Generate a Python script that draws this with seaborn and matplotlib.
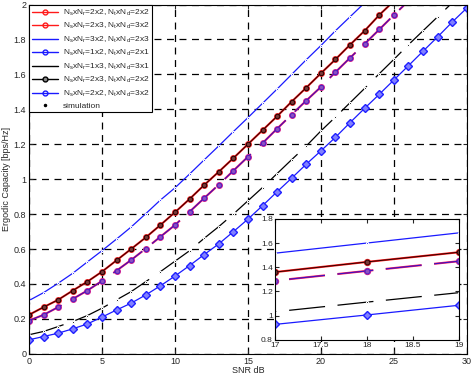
import matplotlib.pyplot as plt
import numpy as np
import seaborn as sns
from matplotlib.lines import Line2D

# %% data (ergodic capacity vs SNR)
snr = np.arange(0, 31)
cap_3x2_2x3 = [0.305, 0.35, 0.404, 0.461, 0.526, 0.59, 0.657, 0.726, 0.802, 0.88,
               0.95, 1.029, 1.11, 1.19, 1.272, 1.352, 1.434, 1.516, 1.60, 1.684,
               1.765, 1.85, 1.93, 2.01]
cap_2x2_2x2 = [0.223, 0.267, 0.309, 0.362, 0.413, 0.47, 0.535, 0.60, 0.666, 0.737,
               0.81, 0.886, 0.966, 1.042, 1.12, 1.20, 1.28, 1.36, 1.444, 1.524,
               1.606, 1.686, 1.77, 1.85, 1.94, 2.02]
cap_2x3_2x2 = cap_2x2_2x2
cap_2x3_3x2 = [0.19, 0.223, 0.267, 0.314, 0.362, 0.417, 0.476, 0.537, 0.602, 0.67,
               0.737, 0.813, 0.891, 0.968, 1.048, 1.128, 1.206, 1.289, 1.37, 1.45,
               1.528, 1.613, 1.695, 1.775, 1.857, 1.94, 2.02]
cap_2x2_3x2 = cap_2x3_3x2
cap_1x3_3x1 = [0.109, 0.128, 0.156, 0.185, 0.219, 0.261, 0.309, 0.356, 0.413, 0.47,
               0.53, 0.59, 0.661, 0.728, 0.80, 0.876, 0.952, 1.032, 1.112, 1.19,
               1.276, 1.356, 1.438, 1.52, 1.604, 1.686, 1.77, 1.85, 1.93, 2.01]
cap_1x2_2x1 = [0.08, 0.099, 0.118, 0.143, 0.171, 0.21, 0.251, 0.29, 0.337, 0.389,
               0.445, 0.505, 0.568, 0.629, 0.699, 0.771, 0.848, 0.928, 1.006, 1.086,
               1.162, 1.24, 1.324, 1.406, 1.486, 1.568, 1.65, 1.733, 1.815, 1.90, 1.98]

labels = ["N$_s$xN$_r$=2x2, N$_t$xN$_d$=2x2",
          "N$_s$xN$_r$=2x3, N$_t$xN$_d$=3x2",
          "N$_s$xN$_r$=3x2, N$_t$xN$_d$=2x3",
          "N$_s$xN$_r$=1x2, N$_t$xN$_d$=2x1",
          "N$_s$xN$_r$=1x3, N$_t$xN$_d$=3x1",
          "N$_s$xN$_r$=2x3, N$_t$xN$_d$=2x2",
          "N$_s$xN$_r$=2x2, N$_t$xN$_d$=3x2",
          "simulation"]

# %% style
sns.set_style("ticks")
plt.rcParams['font.family'] = ['Liberation Sans', 'DejaVu Sans']
plt.rcParams['mathtext.fontset'] = 'custom'
plt.rcParams['mathtext.rm'] = 'Liberation Sans'
plt.rcParams['mathtext.it'] = 'Liberation Sans'
plt.rcParams['lines.scale_dashes'] = False  # same dash length whatever the width

dash = (0, (26, 9))


def line(ax, y, **kw):
    sns.lineplot(x=snr[:len(y)], y=y, ax=ax, legend=False, errorbar=None, **kw)


def draw(ax, ms=4.2):
    line(ax, cap_3x2_2x3, color='#1a1aff', lw=0.9, marker='.', ms=3)
    line(ax, cap_2x2_2x2, color='#ff1a1a', lw=1.5, marker='o', ms=ms,
         mec='#ff3030', mfc='none', mew=0.8)
    line(ax, cap_2x3_2x2, color='#2a0000', lw=0.7, marker='o', ms=ms - 1,
         mec='#300000', mfc='#7a3a3a', mew=0.8)
    line(ax, cap_2x3_3x2, color='#ff1a5a', lw=1.5, linestyle=dash, marker='o',
         ms=ms, mec='#e0208a', mfc='none', mew=0.8)
    line(ax, cap_2x2_3x2, color='#3a10c0', lw=0.8, linestyle=dash, marker='o',
         ms=ms - 1, mec='#5020c0', mfc='#9050c0', mew=0.8)
    line(ax, cap_1x3_3x1, color='k', lw=0.9, linestyle=dash, marker='.', ms=3)
    line(ax, cap_1x2_2x1, color='#1a1aff', lw=0.9, marker='D', ms=ms - 0.6,
         mec='#2020ff', mfc='#8080ff', mew=1.0)


# %% create figure
fig = plt.figure(figsize=(4.74, 3.76), dpi=100)
ax = fig.add_axes([0.061, 0.059, 0.924, 0.929])
ax.set_axisbelow(True)
draw(ax)
ax.set_xlim(0, 30)
ax.set_ylim(0, 2)
ax.set_xticks(np.arange(0, 31, 5))
ax.set_yticks(np.arange(0, 2.01, 0.2))
ax.set_yticklabels(['0', '0.2', '0.4', '0.6', '0.8', '1', '1.2', '1.4', '1.6', '1.8', '2'])
ax.grid(True, color='k', linestyle=(0, (5, 4)), linewidth=0.9)
ax.tick_params(direction='in', top=True, right=True, length=3, labelsize=6.5, pad=2)
for s in ax.spines.values():
    s.set_linewidth(0.8)
    s.set_color('k')
ax.set_xlabel("SNR dB", fontsize=6.5, labelpad=0.5)
ax.set_ylabel("Ergodic Capacity [bps/Hz]", fontsize=6.5, labelpad=2)

handles = [
    Line2D([], [], color='#ff1a1a', lw=1, marker='o', ms=3.5, mfc='none'),
    Line2D([], [], color='#ff1a1a', lw=1, marker='o', ms=3.5, mfc='none'),
    Line2D([], [], color='#1a1aff', lw=1),
    Line2D([], [], color='#1a1aff', lw=1, marker='o', ms=3.5, mfc='none'),
    Line2D([], [], color='k', lw=1),
    Line2D([], [], color='k', lw=1, marker='o', ms=3.5, mfc='#888888'),
    Line2D([], [], color='#1a1aff', lw=1, marker='o', ms=3.5, mfc='none'),
    Line2D([], [], color='k', lw=0, marker='.', ms=3),
]
leg = ax.legend(handles, labels, loc='upper left', fontsize=6, frameon=True,
                fancybox=False, framealpha=1, edgecolor='k', handlelength=3.2,
                labelspacing=0.4, borderpad=0.3, borderaxespad=0.05,
                handletextpad=0.5)
leg.get_frame().set_linewidth(0.8)

# inset zoom
axi = fig.add_axes([0.580, 0.096, 0.388, 0.322])
axi.set_facecolor('white')
draw(axi, ms=4.5)
axi.set_xlim(17, 19)
axi.set_ylim(0.8, 1.8)
axi.set_xticks([17, 17.5, 18, 18.5, 19])
axi.set_xticklabels(['17', '17.5', '18', '18.5', '19'])
axi.set_yticks([0.8, 1, 1.2, 1.4, 1.6, 1.8])
axi.set_yticklabels(['0.8', '1', '1.2', '1.4', '1.6', '1.8'])
axi.set_xlabel('')
axi.set_ylabel('')
axi.tick_params(direction='in', top=True, right=True, length=3, labelsize=6, pad=1.5)
for s in axi.spines.values():
    s.set_linewidth(0.8)
    s.set_color('k')

fig.savefig("out.png", dpi=100)
